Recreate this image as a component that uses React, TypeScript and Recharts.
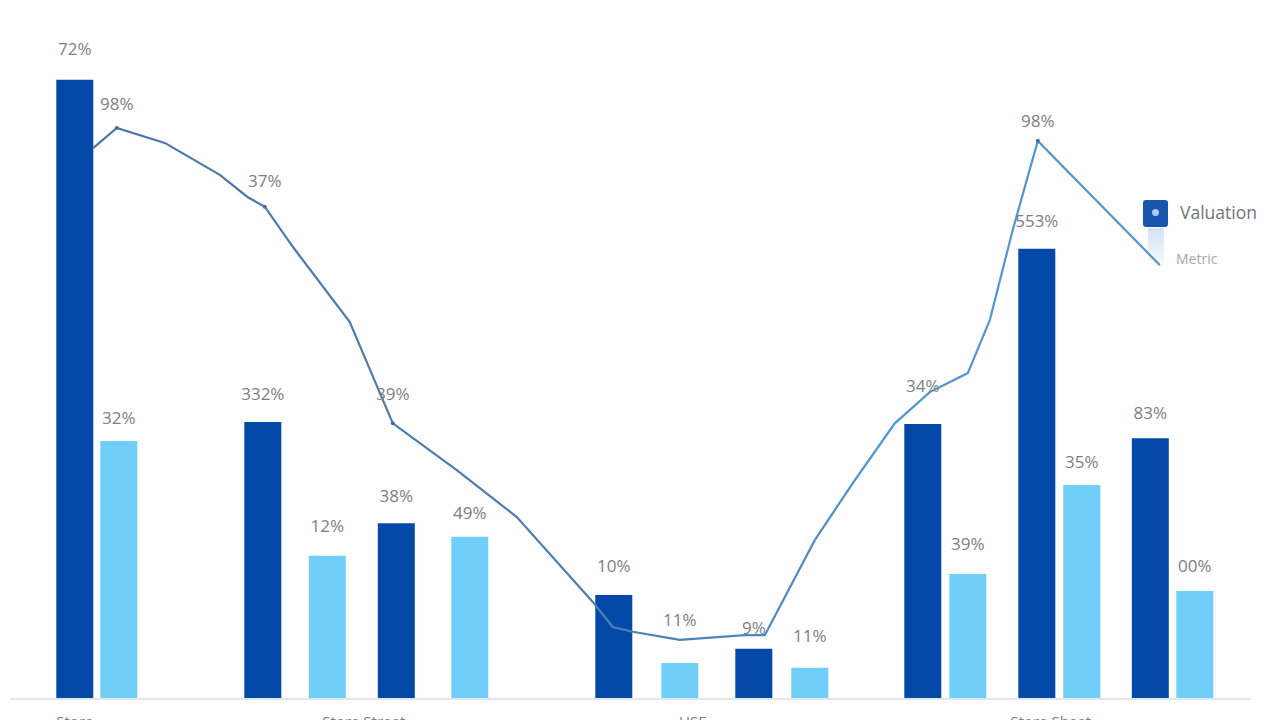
import { Bar, ComposedChart, LabelList, Line, XAxis, YAxis } from "recharts";

// x values sit on a numeric axis because the groups are unevenly spaced
const darkX = [7.45, 26.25, 39.6, 61.35, 75.35, 92.25, 103.65, 115];
const darkValues = [91.2, 40.8, 25.9, 15.3, 7.4, 40.5, 66.3, 38.4];
const darkLabels = ["72%", "332%", "38%", "10%", "9%", "34%", "553%", "83%"];
const darkGaps = [31, 28, 28, 30, 21, 39, 28, 26];

const lightX = [11.85, 32.7, 46.95, 67.95, 80.95, 96.75, 108.15, 119.45];
const lightValues = [38.0, 21.1, 23.9, 5.3, 4.6, 18.4, 31.5, 15.9];
const lightLabels = ["32%", "12%", "49%", "11%", "11%", "39%", "35%", "00%"];
const lightGaps = [23, 30, 24, 44, 32, 31, 24, 26];

const lineX = [9.3, 11.7, 16.5, 22, 24.8, 26.5, 29.3, 35, 39.3, 45.7, 51.7, 59.3, 61.3, 63.3, 68, 74.5, 76.5, 81.5, 85.3, 89.5, 93, 96.8, 99, 101.3, 103.8, 116];
const lineValues = [81.1, 84.1, 81.9, 77.2, 73.9, 72.5, 66.6, 55.5, 40.6, 33.7, 26.8, 14.3, 10.6, 9.9, 8.7, 9.4, 9.4, 23.4, 31.8, 40.6, 45.2, 48.0, 55.8, 69.1, 82.2, 63.9];
const lineLabels: Record<number, string> = { 1: "98%", 5: "37%", 8: "39%", 24: "98%" };
const lineGaps: Record<number, number> = { 1: 24, 5: 26, 8: 30, 24: 20 };

const tickX = [7.5, 36.4, 69.3, 105.1];
const tickNames = ["Store", "Store Street", "USE", "Store Sheet"];

const legendNames = ["Valuation", "Metric"];

const xDomain: [number, number] = [1.02, 125.12];

const barRows = [
  ...darkX.map((x, i) => ({ x, dark: darkValues[i], label: darkLabels[i], gap: darkGaps[i] })),
  ...lightX.map((x, i) => ({ x, light: lightValues[i], label: lightLabels[i], gap: lightGaps[i] })),
]
  .sort((a, b) => a.x - b.x)
  .map((r, i) => ({ ...r, rowIndex: i }));

const lineRows = lineX.map((x, i) => ({
  x,
  line: lineValues[i],
  label: lineLabels[i],
  gap: lineGaps[i],
  rowIndex: i,
}));

const labelFor = (rows: any[], field: "dark" | "light" | "line") => (props: any) => {
  const row = rows[props.value];
  if (!row || !row.label || row[field] === undefined) return null;
  const cx = field === "line" ? props.x : props.x + props.width / 2;
  return (
    <text
      x={cx}
      y={props.y - row.gap}
      textAnchor="middle"
      dominantBaseline="central"
      fontFamily="Open Sans"
      fontSize={17}
      fill="#7c8086"
    >
      {row.label}
    </text>
  );
};

const renderDot = (props: any) => {
  if (!lineLabels[props.index]) return <g key={props.index} />;
  return <circle key={props.index} cx={props.cx} cy={props.cy} r={2} fill="#3f6ea6" />;
};

export default function App() {
  return (
    <div style={{ position: "absolute", left: 0, top: 0, width: 1280, height: 720, background: "#fff", overflow: "hidden" }}>
      <div style={{ position: "absolute", left: 1148, top: 228, width: 16, height: 34, background: "linear-gradient(#d4e3f4, #f4f8fc)" }} />
      <ComposedChart
        width={1280}
        height={720}
        data={barRows}
        margin={{ left: 10, right: 29, top: 20, bottom: 0 }}
        style={{ position: "absolute", left: 0, top: 0 }}
      >
        <defs>
          <linearGradient id="lineStroke" gradientUnits="userSpaceOnUse" x1="90" y1="0" x2="1160" y2="0">
            <stop offset="0%" stopColor="#4c76a6" />
            <stop offset="55%" stopColor="#4f80b4" />
            <stop offset="75%" stopColor="#5096d2" />
            <stop offset="100%" stopColor="#5a94cc" />
          </linearGradient>
        </defs>
        <XAxis
          dataKey="x"
          type="number"
          domain={xDomain}
          ticks={tickX}
          tickFormatter={(v) => tickNames[tickX.indexOf(v)]}
          height={21}
          tickLine={false}
          tickMargin={11}
          axisLine={{ stroke: "#e3e6ea", strokeWidth: 2 }}
          tick={{ fontFamily: "Open Sans", fontSize: 15, fill: "#7c8086" }}
          interval={0}
        />
        <XAxis xAxisId="line" dataKey="x" type="number" domain={xDomain} hide />
        <YAxis hide domain={[0, 100]} />
        <Bar dataKey="dark" stackId="a" barSize={37} fill="#0449a8" isAnimationActive={false}>
          <LabelList dataKey="rowIndex" content={labelFor(barRows, "dark")} />
        </Bar>
        <Bar dataKey="light" stackId="a" barSize={37} fill="#6fcff8" isAnimationActive={false}>
          <LabelList dataKey="rowIndex" content={labelFor(barRows, "light")} />
        </Bar>
        <Line
          data={lineRows}
          xAxisId="line"
          dataKey="line"
          type="linear"
          stroke="url(#lineStroke)"
          strokeWidth={2.2}
          dot={renderDot}
          isAnimationActive={false}
        >
          <LabelList dataKey="rowIndex" content={labelFor(lineRows, "line")} />
        </Line>
      </ComposedChart>
      <div style={{ position: "absolute", left: 1143, top: 200, width: 25, height: 27, background: "#1a55ad", borderRadius: 3 }} />
      <div style={{ position: "absolute", left: 1152, top: 209, width: 7, height: 7, background: "#a9c8ea", borderRadius: 4 }} />
      <div style={{ position: "absolute", left: 1180, top: 200, fontFamily: "Open Sans", fontSize: 17.5, color: "#6f757c", whiteSpace: "nowrap" }}>
        {legendNames[0]}
      </div>
      <div style={{ position: "absolute", left: 1176, top: 249, fontFamily: "Open Sans", fontSize: 14, color: "#a3a8ae", whiteSpace: "nowrap" }}>
        {legendNames[1]}
      </div>
    </div>
  );
}
